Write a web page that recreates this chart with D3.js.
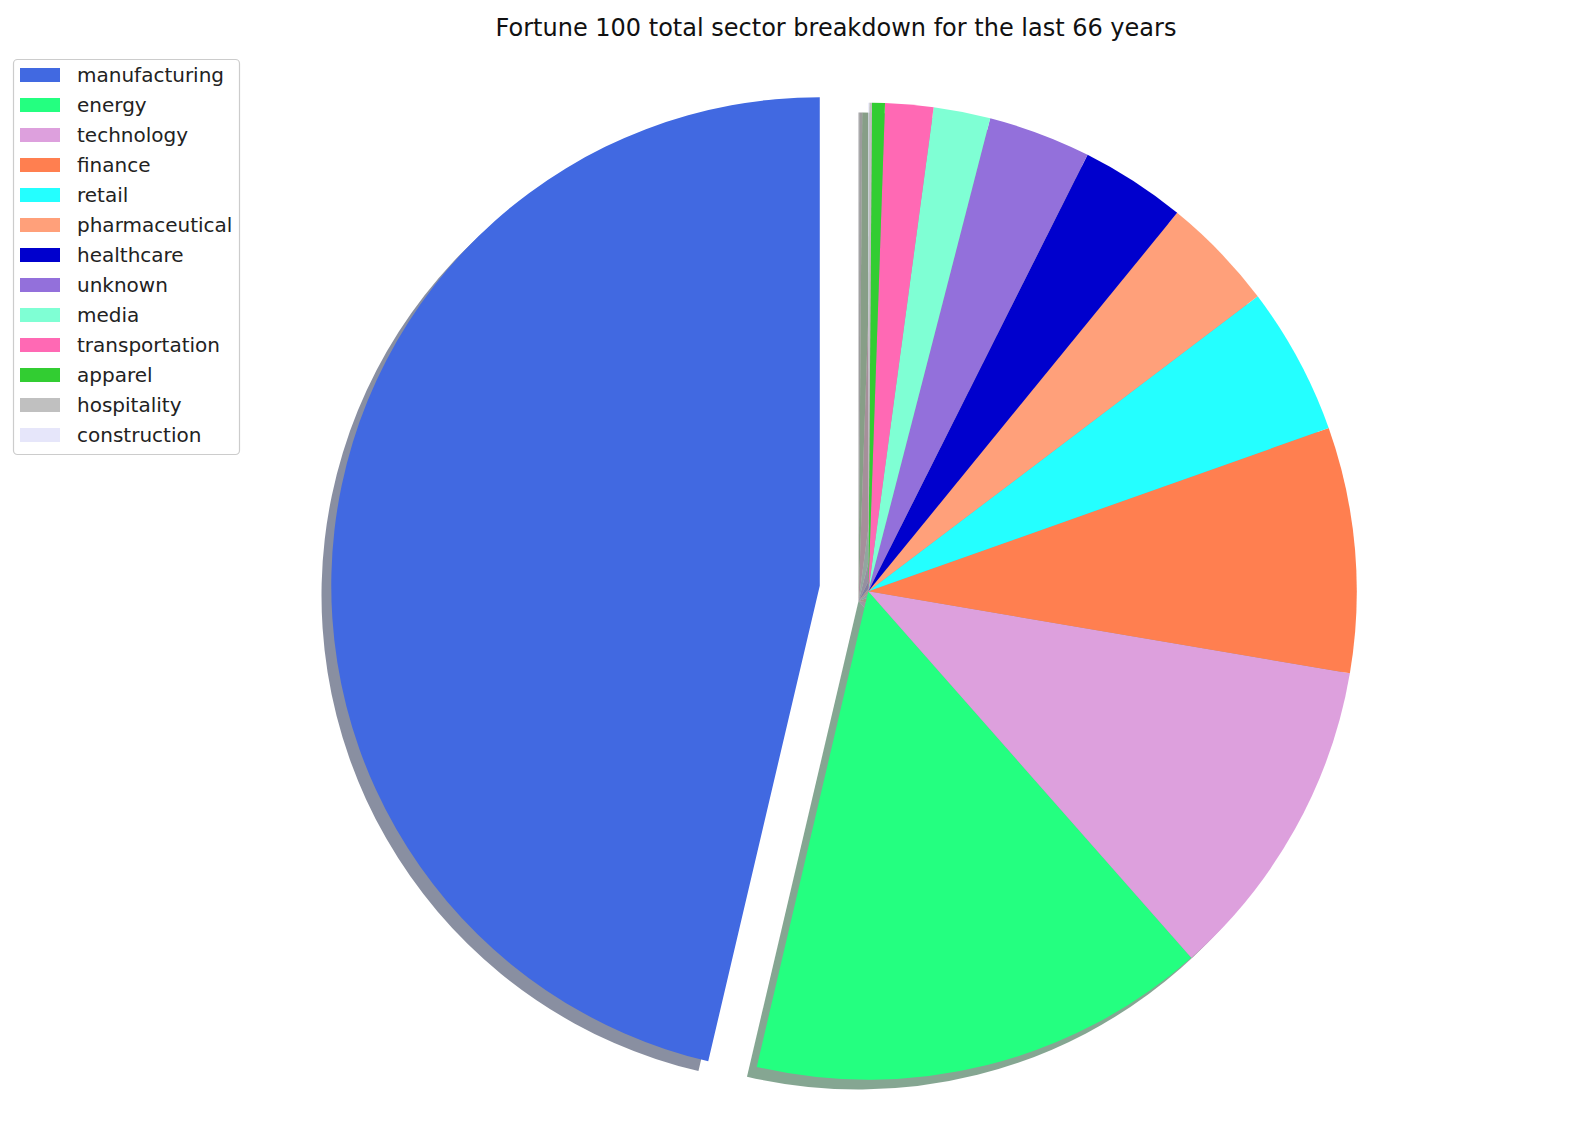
<!DOCTYPE html>
<html>
<head>
<meta charset="utf-8">
<script src="https://cdn.jsdelivr.net/npm/d3@7"></script>
<style>
  html, body { margin: 0; padding: 0; background: #ffffff; }
  svg { display: block; }
  text { font-family: "DejaVu Sans", sans-serif; }
</style>
</head>
<body>
<svg id="chart" width="1580" height="1132"></svg>
<script>
// ---- data ----
const categories = ["manufacturing", "energy", "technology", "finance", "retail",
  "pharmaceutical", "healthcare", "unknown", "media", "transportation",
  "apparel", "hospitality", "construction"];
const counts = [3058, 1001, 714, 535, 323, 250, 230, 224, 124, 105, 28, 6, 2];
const colors = ["#4169e1", "#24ff80", "#dda0dd", "#ff7f50", "#24ffff", "#ffa07a",
  "#0000cd", "#9370db", "#7fffd4", "#ff69b4", "#32cd32", "#c0c0c0", "#e6e6fa"];
const explode = [0.1, 0, 0, 0, 0, 0, 0, 0, 0, 0, 0, 0, 0];
const title = "Fortune 100 total sector breakdown for the last 66 years";

// ---- layout ----
const svg = d3.select("#chart");
const cx = 868.3, cy = 591.3, R = 488.5;
const shadowOffset = 0.02 * R;

const data = categories.map((c, i) => ({ name: c, value: counts[i], color: colors[i], explode: explode[i] }));

// counter-clockwise from 12 o'clock (matplotlib startangle=90)
const pie = d3.pie().sort(null).value(d => d.value)
  .startAngle(0).endAngle(-2 * Math.PI);
const arcs = pie(data);
const arc = d3.arc().innerRadius(0).outerRadius(R);

function offset(d) {
  const a = (d.startAngle + d.endAngle) / 2;
  const e = d.data.explode * R;
  return [Math.sin(a) * e, -Math.cos(a) * e];
}

const g = svg.append("g").attr("transform", `translate(${cx},${cy})`);

// shadows (behind every wedge)
g.append("g").selectAll("path").data(arcs).join("path")
  .attr("d", arc)
  .attr("transform", d => { const o = offset(d); return `translate(${o[0] - shadowOffset},${o[1] + shadowOffset})`; })
  .attr("fill", d => { const c = d3.rgb(d.data.color); return d3.rgb(c.r * 0.3, c.g * 0.3, c.b * 0.3).toString(); })
  .attr("fill-opacity", 0.5);

// wedges
g.append("g").selectAll("path").data(arcs).join("path")
  .attr("d", arc)
  .attr("transform", d => { const o = offset(d); return `translate(${o[0]},${o[1]})`; })
  .attr("fill", d => d.data.color);

// title
svg.append("text")
  .attr("x", 836).attr("y", 36)
  .attr("text-anchor", "middle")
  .attr("font-size", 24)
  .attr("fill", "#111")
  .text(title);

// legend
const leg = svg.append("g");
leg.append("rect")
  .attr("x", 13.5).attr("y", 59.5)
  .attr("width", 226).attr("height", 395)
  .attr("rx", 4).attr("ry", 4)
  .attr("fill", "#ffffff").attr("fill-opacity", 0.8)
  .attr("stroke", "#cccccc").attr("stroke-width", 1.2);

const rowY = d3.scalePoint().domain(categories).range([75, 435]);
const items = leg.selectAll("g.item").data(data).join("g").attr("class", "item")
  .attr("transform", d => `translate(0,${rowY(d.name)})`);
items.append("rect")
  .attr("x", 20).attr("y", -7).attr("width", 40).attr("height", 14)
  .attr("fill", d => d.color);
items.append("text")
  .attr("x", 77).attr("y", 7)
  .attr("font-size", 20)
  .attr("fill", "#222")
  .text(d => d.name);
</script>
</body>
</html>
